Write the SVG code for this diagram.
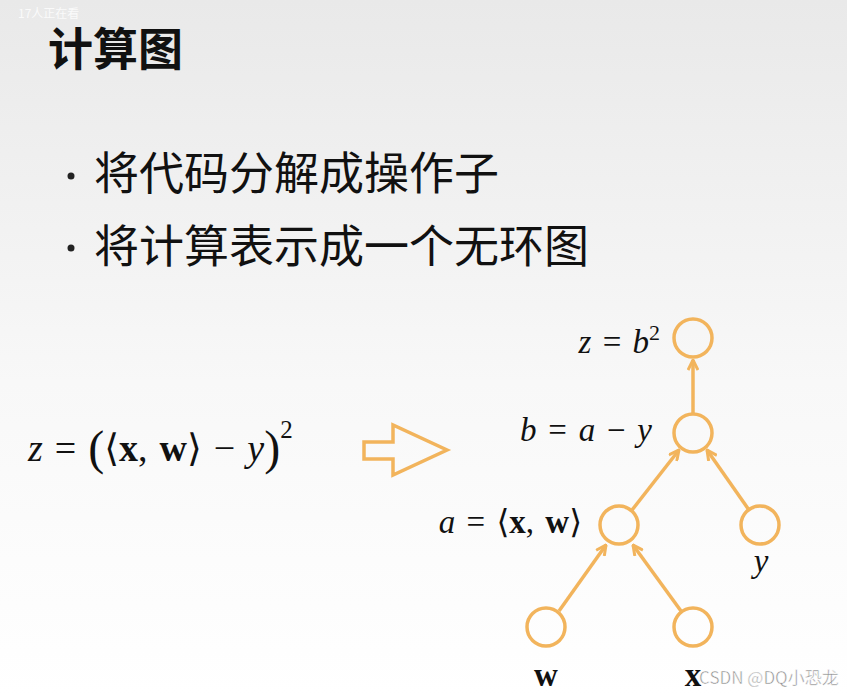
<svg xmlns="http://www.w3.org/2000/svg" width="847" height="695" viewBox="0 0 847 695">
<defs>
<linearGradient id="bg" x1="0" y1="0" x2="0" y2="1">
<stop offset="0" stop-color="#e9e9e9"/>
<stop offset="0.55" stop-color="#f8f8f8"/>
<stop offset="1" stop-color="#ffffff"/>
</linearGradient>
<marker id="ah" viewBox="0 0 12 12" refX="11" refY="6" markerWidth="12" markerHeight="12" markerUnits="userSpaceOnUse" orient="auto">
<path d="M1,1 L11,6 L1,11" fill="none" stroke="#F2B45C" stroke-width="3"/>
</marker>
<style>
.cn{font-family:"Noto Sans CJK SC","Noto Sans",sans-serif;fill:#111}
.m{font-family:"Liberation Serif","DejaVu Serif",serif;fill:#111}
.it{font-style:italic}
.bd{font-weight:bold}
.node{fill:none;stroke:#F2B45C;stroke-width:3.5}
.edge{fill:none;stroke:#F2B45C;stroke-width:3.5;marker-end:url(#ah)}
</style>
</defs>
<rect width="847" height="695" fill="url(#bg)"/>
<text x="18" y="18" font-family="Noto Sans CJK SC,sans-serif" font-size="12" fill="#ffffff" opacity="0.8">17人正在看</text>
<text x="48" y="66" class="cn" font-size="45" font-weight="bold">计算图</text>
<g id="bullets">
<circle cx="71" cy="176" r="3.5" fill="#222"/>
<text x="94" y="190" class="cn" font-size="45">将代码分解成操作子</text>
<circle cx="71" cy="248" r="3.5" fill="#222"/>
<text x="94" y="263" class="cn" font-size="45">将计算表示成一个无环图</text>
</g>
<g id="formula">
<text x="28" y="461" class="m" font-size="38" word-spacing="2.5"><tspan class="it">z</tspan> = <tspan font-size="48" dy="3">(</tspan><tspan dy="-3">⟨</tspan><tspan class="bd">x</tspan>, <tspan class="bd">w</tspan>⟩ − <tspan class="it">y</tspan><tspan font-size="48" dy="3">)</tspan><tspan font-size="25" dy="-26">2</tspan></text>
</g>
<g id="bigarrow">
<path d="M364,442 L393,442 L393,425 L447,450 L393,475 L393,459 L364,459 Z" fill="none" stroke="#F2B45C" stroke-width="3.5" stroke-linejoin="miter"/>
</g>
<g id="connectors">
<line class="edge" x1="693" y1="414" x2="693" y2="360"/>
<line class="edge" x1="632" y1="510" x2="679" y2="450"/>
<line class="edge" x1="749" y1="510" x2="707" y2="450"/>
<line class="edge" x1="559" y1="611" x2="606" y2="545"/>
<line class="edge" x1="681" y1="611" x2="633" y2="545"/>
</g>
<g id="node-z"><circle class="node" cx="693" cy="338" r="19"/><text x="660" y="353" class="m" font-size="33" word-spacing="3" text-anchor="end"><tspan class="it">z</tspan> = <tspan class="it">b</tspan><tspan font-size="22" dy="-13">2</tspan></text></g>
<g id="node-b"><circle class="node" cx="693" cy="433" r="19"/><text x="652" y="441" class="m" font-size="33" word-spacing="3.5" text-anchor="end"><tspan class="it">b</tspan> = <tspan class="it">a</tspan> − <tspan class="it">y</tspan></text></g>
<g id="node-a"><circle class="node" cx="619" cy="525" r="19"/><text x="582" y="533" class="m" font-size="33" word-spacing="3" text-anchor="end"><tspan class="it">a</tspan> = ⟨<tspan class="bd">x</tspan>, <tspan class="bd">w</tspan>⟩</text></g>
<g id="node-y"><circle class="node" cx="760" cy="525" r="19"/><text x="761" y="572" class="m it" font-size="33" text-anchor="middle">y</text></g>
<g id="node-w"><circle class="node" cx="546" cy="627" r="19"/><text x="546" y="686" class="m bd" font-size="33" text-anchor="middle">w</text></g>
<g id="node-x"><circle class="node" cx="693" cy="627" r="19"/><text x="693" y="686" class="m bd" font-size="33" text-anchor="middle">x</text></g>
<text x="699" y="684" font-family="Noto Sans CJK SC,sans-serif" font-size="17" fill="#8f8f8f" stroke="#ffffff" stroke-width="0.5">CSDN @DQ小恐龙</text>
</svg>
